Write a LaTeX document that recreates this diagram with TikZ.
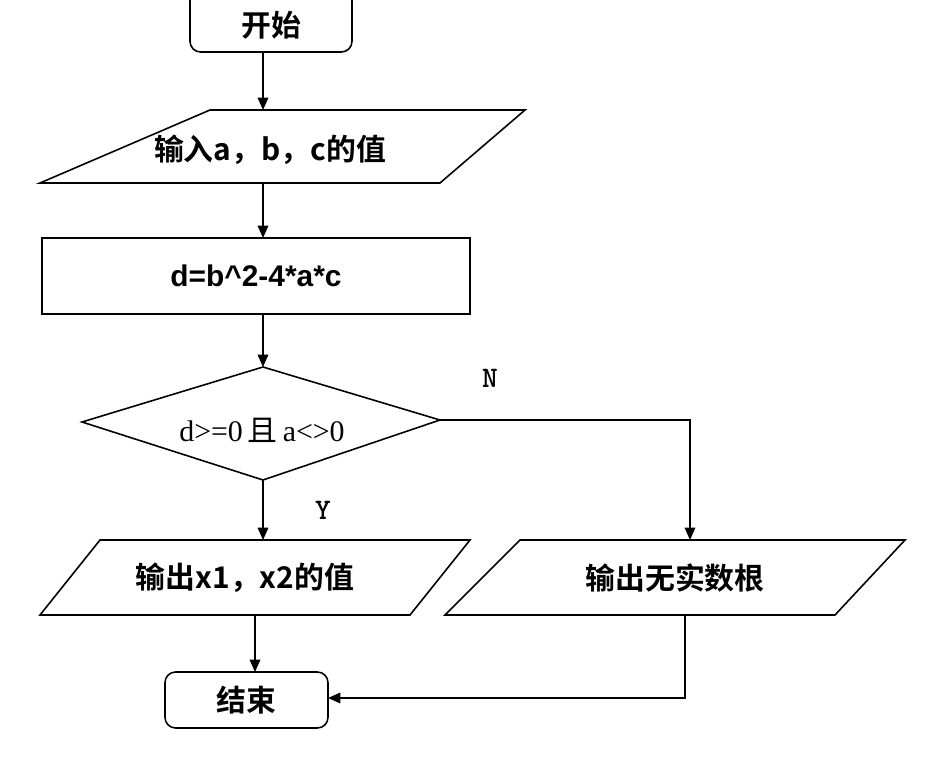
\documentclass[tikz,border=0pt]{standalone}
\usepackage{fontspec}
\setmainfont{Liberation Serif}
\newfontfamily\cjk{Noto Sans CJK SC}[BoldFont={Noto Sans CJK SC Bold}]
\newfontfamily\hsans{Liberation Sans}
\usetikzlibrary{arrows.meta}
\begin{document}
\begin{tikzpicture}[x=0.02cm,y=-0.02cm,
  box/.style={draw,line width=0.9pt},
  rbox/.style={draw,line width=0.9pt,rounded corners=6pt},
  txt/.style={font=\fontsize{17}{20}\selectfont\cjk\bfseries},
  arr/.style={line width=0.9pt,-{Triangle[length=7pt,width=6pt]}},
  ln/.style={line width=0.9pt}]
\useasboundingbox (0,0) rectangle (931,777);
% start
\node[rbox,txt,minimum width=3.24cm,minimum height=1.24cm,inner sep=0] (start) at (271,21) {};
\node[txt] (tstart) at (271,25) {开始};
\coordinate (s1) at (263,52);
% input
\draw[box] (210,110) -- (525,110) -- (440,183) -- (40,183) -- cycle;
\node[txt] (in) at (270,150) {输入a，b，c的值};
\coordinate (in1) at (263,110);
\coordinate (in2) at (263,183);
% compute
\draw[box] (42,238) rectangle (470,314);
\node[font=\fontsize{17}{20}\selectfont\hsans\bfseries] (calc) at (256,276) {d=b\^{}2-4*a*c};
\coordinate (c1) at (263,238);
\coordinate (c2) at (263,314);
% diamond
\coordinate (dt) at (263,367);
\coordinate (dl) at (82,422);
\coordinate (dr) at (440,420);
\coordinate (db) at (263,480);
\draw[box] (dt) -- (dr) -- (db) -- (dl) -- cycle;
\node[font=\fontsize{17}{20}\selectfont] (cond) at (262,430) {d>=0\,{\cjk 且}\,a<>0};
% outputs
\draw[box] (100,540) -- (470,540) -- (410,615) -- (40,615) -- cycle;
\node[txt] (o1) at (245,578) {输出x1，x2的值};
\draw[box] (520,540) -- (905,540) -- (835,615) -- (445,615) -- cycle;
\node[txt] (o2) at (675,578) {输出无实数根};
\coordinate (o1t) at (263,540);
\coordinate (o1b) at (255,615);
\coordinate (o2t) at (690,540);
\coordinate (o2b) at (685,615);
% end
\draw[rbox] (165,672) rectangle (328,728);
\node[txt] (tend) at (246,700) {结束};
\coordinate (e1) at (255,672);
\coordinate (er) at (328,698);
% labels
\node[font=\fontsize{17}{20}\selectfont\ttfamily\bfseries] (N) at (490,378) {N};
\node[font=\fontsize{17}{20}\selectfont\ttfamily\bfseries] (Y) at (323,510) {Y};
% connectors
\draw[arr] (s1) -- (in1);
\draw[arr] (in2) -- (c1);
\draw[arr] (c2) -- (dt);
\draw[arr] (db) -- (o1t);
\draw[arr] (dr) -- (690,420) -- (o2t);
\draw[arr] (o1b) -- (e1);
\draw[arr] (o2b) -- (685,698) -- (er);
\end{tikzpicture}
\end{document}
